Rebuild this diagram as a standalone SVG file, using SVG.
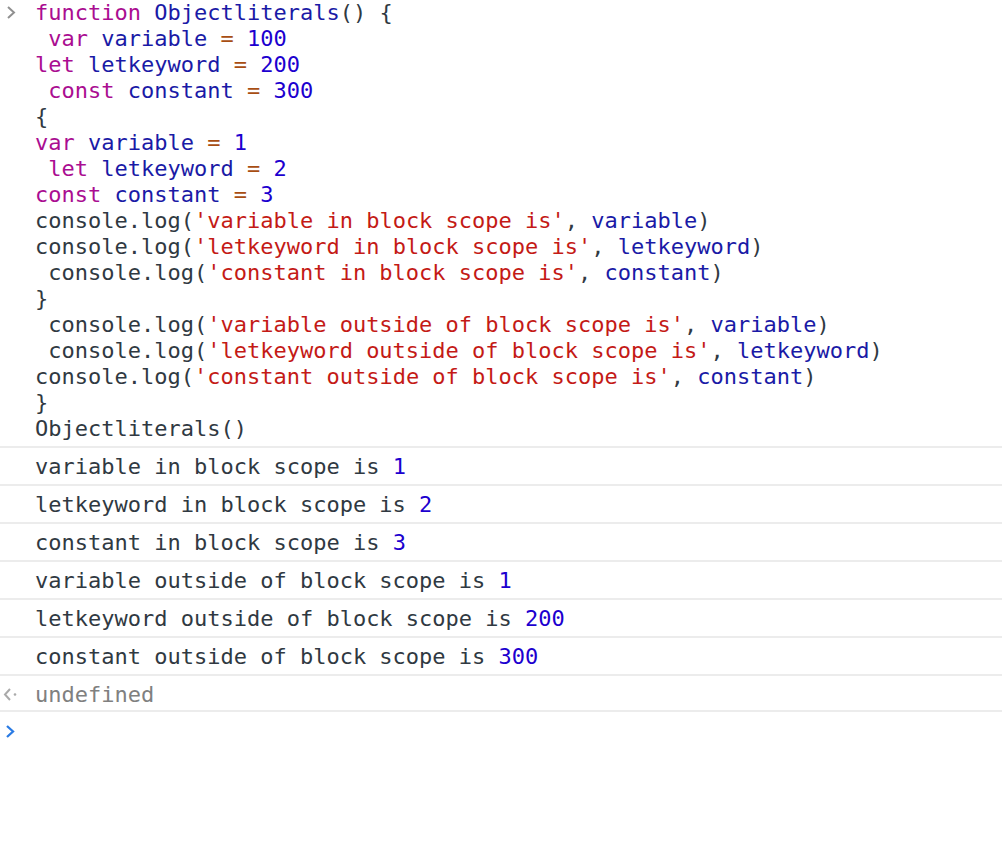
<svg xmlns="http://www.w3.org/2000/svg" width="1002" height="852" viewBox="0 0 1002 852">
<style>
text{font-family:"DejaVu Sans Mono","Liberation Mono",monospace;font-size:22px;fill:#303942;white-space:pre}
.k{fill:#aa0d91}.i{fill:#1a1aa6}.n{fill:#1c00cf}.o{fill:#a84e13}.s{fill:#c41a16}.u{fill:#808080}
line{stroke:#e6e6e6;stroke-width:1.5}
</style>
<rect width="1002" height="852" fill="#fff"/>
<path d="M8 7 L14 12.5 L8 18" fill="none" stroke="#909090" stroke-width="2"/>
<g xml:space="preserve">
<text x="35" y="20"><tspan class="k">function</tspan> <tspan class="i">Objectliterals</tspan>() {</text>
<text x="35" y="46"> <tspan class="k">var</tspan> <tspan class="i">variable</tspan> <tspan class="o">=</tspan> <tspan class="n">100</tspan></text>
<text x="35" y="72"><tspan class="k">let</tspan> <tspan class="i">letkeyword</tspan> <tspan class="o">=</tspan> <tspan class="n">200</tspan></text>
<text x="35" y="98"> <tspan class="k">const</tspan> <tspan class="i">constant</tspan> <tspan class="o">=</tspan> <tspan class="n">300</tspan></text>
<text x="35" y="124">{</text>
<text x="35" y="150"><tspan class="k">var</tspan> <tspan class="i">variable</tspan> <tspan class="o">=</tspan> <tspan class="n">1</tspan></text>
<text x="35" y="176"> <tspan class="k">let</tspan> <tspan class="i">letkeyword</tspan> <tspan class="o">=</tspan> <tspan class="n">2</tspan></text>
<text x="35" y="202"><tspan class="k">const</tspan> <tspan class="i">constant</tspan> <tspan class="o">=</tspan> <tspan class="n">3</tspan></text>
<text x="35" y="228">console.log(<tspan class="s">'variable in block scope is'</tspan>, <tspan class="i">variable</tspan>)</text>
<text x="35" y="254">console.log(<tspan class="s">'letkeyword in block scope is'</tspan>, <tspan class="i">letkeyword</tspan>)</text>
<text x="35" y="280"> console.log(<tspan class="s">'constant in block scope is'</tspan>, <tspan class="i">constant</tspan>)</text>
<text x="35" y="306">}</text>
<text x="35" y="332"> console.log(<tspan class="s">'variable outside of block scope is'</tspan>, <tspan class="i">variable</tspan>)</text>
<text x="35" y="358"> console.log(<tspan class="s">'letkeyword outside of block scope is'</tspan>, <tspan class="i">letkeyword</tspan>)</text>
<text x="35" y="384">console.log(<tspan class="s">'constant outside of block scope is'</tspan>, <tspan class="i">constant</tspan>)</text>
<text x="35" y="410">}</text>
<text x="35" y="436">Objectliterals()</text>
<text x="35" y="474">variable in block scope is <tspan class="n">1</tspan></text>
<text x="35" y="512">letkeyword in block scope is <tspan class="n">2</tspan></text>
<text x="35" y="550">constant in block scope is <tspan class="n">3</tspan></text>
<text x="35" y="588">variable outside of block scope is <tspan class="n">1</tspan></text>
<text x="35" y="626">letkeyword outside of block scope is <tspan class="n">200</tspan></text>
<text x="35" y="664">constant outside of block scope is <tspan class="n">300</tspan></text>
<text x="35" y="702" class="u">undefined</text>
</g>
<line x1="0" y1="447" x2="1002" y2="447"/>
<line x1="0" y1="485" x2="1002" y2="485"/>
<line x1="0" y1="523" x2="1002" y2="523"/>
<line x1="0" y1="561" x2="1002" y2="561"/>
<line x1="0" y1="599" x2="1002" y2="599"/>
<line x1="0" y1="637" x2="1002" y2="637"/>
<line x1="0" y1="675" x2="1002" y2="675"/>
<line x1="0" y1="711" x2="1002" y2="711"/>
<path d="M10 689 L5 694.5 L10 700" fill="none" stroke="#aaa" stroke-width="2"/>
<circle cx="15" cy="694.5" r="1.3" fill="#aaa"/>
<path d="M7 726 L13 731.5 L7 737" fill="none" stroke="#2a7be4" stroke-width="2.3"/>
</svg>
